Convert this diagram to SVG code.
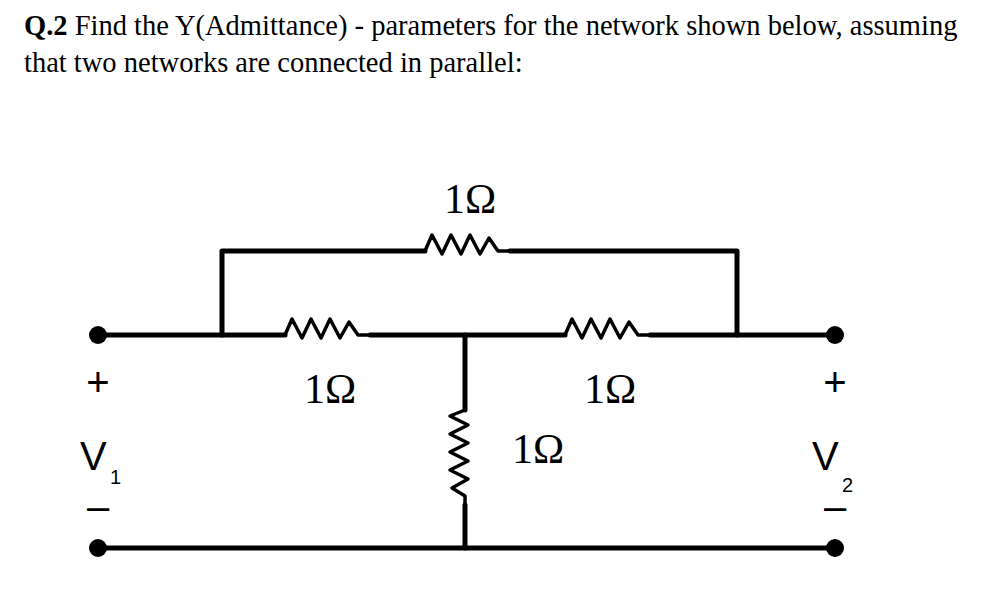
<svg xmlns="http://www.w3.org/2000/svg" width="997" height="594" viewBox="0 0 997 594">
<style>
.w{fill:none;stroke:#000;stroke-width:5;stroke-linejoin:round;stroke-linecap:round}
.r{fill:none;stroke:#000;stroke-width:3.5;stroke-linejoin:round}
.t{font-family:"Liberation Serif",serif;font-size:28.5px}
.l{font-family:"Liberation Sans",sans-serif;font-size:40px}
.o{font-family:"Liberation Serif",serif;font-size:42px}
</style>
<rect width="997" height="594" fill="#fff"/>
<text class="t" x="24" y="35"><tspan font-weight="bold">Q.2</tspan> Find the Y(Admittance) - parameters for the network shown below, assuming</text>
<text class="t" x="24" y="72">that two networks are connected  in parallel:</text>
<g id="connectors">
<polyline class="w" points="222,335 222,251 425,251"/>
<polyline class="w" points="510,251 737,251 737,335"/>
<line class="w" x1="98" y1="335" x2="285" y2="335"/>
<line class="w" x1="370" y1="335" x2="565" y2="335"/>
<line class="w" x1="650" y1="335" x2="835" y2="335"/>
<line class="w" x1="465" y1="335" x2="465" y2="410"/>
<line class="w" x1="465" y1="505" x2="465" y2="548"/>
<line class="w" x1="98" y1="548" x2="835" y2="548"/>
</g>
<g id="R_top"><polyline class="r" points="425,251 432,235 442,254 451,235 461,254 470,235 480,254 489,238 498,251 510,251"/><text class="o" x="470" y="213" text-anchor="middle">1Ω</text></g>
<g id="R_left"><polyline class="r" points="285,335 292,319 302,338 311,319 321,338 330,319 340,338 349,322 358,335 370,335"/><text class="o" x="330" y="403" text-anchor="middle">1Ω</text></g>
<g id="R_right"><polyline class="r" points="565,335 572,319 582,338 591,319 601,338 610,319 620,338 629,322 638,335 650,335"/><text class="o" x="610" y="403" text-anchor="middle">1Ω</text></g>
<g id="R_mid"><polyline class="r" points="465,410 450,416 468,425 450,434 468,443 450,452 468,461 450,470 468,479 452,488 465,496 465,505"/><text class="o" x="538" y="463" text-anchor="middle">1Ω</text></g>
<g id="port1"><circle cx="98" cy="335" r="9"/><circle cx="98" cy="548" r="9"/>
<text class="l" x="98" y="396" text-anchor="middle">+</text>
<text class="l" x="80" y="470">V</text><text x="110" y="484" font-family="Liberation Sans,sans-serif" font-size="20">1</text>
<text class="l" x="98" y="520" text-anchor="middle">–</text></g>
<g id="port2"><circle cx="835" cy="335" r="9"/><circle cx="835" cy="548" r="9"/>
<text class="l" x="835" y="396" text-anchor="middle">+</text>
<text class="l" x="812" y="470">V</text><text x="842" y="492" font-family="Liberation Sans,sans-serif" font-size="20">2</text>
<text class="l" x="835" y="520" text-anchor="middle">–</text></g>
</svg>
